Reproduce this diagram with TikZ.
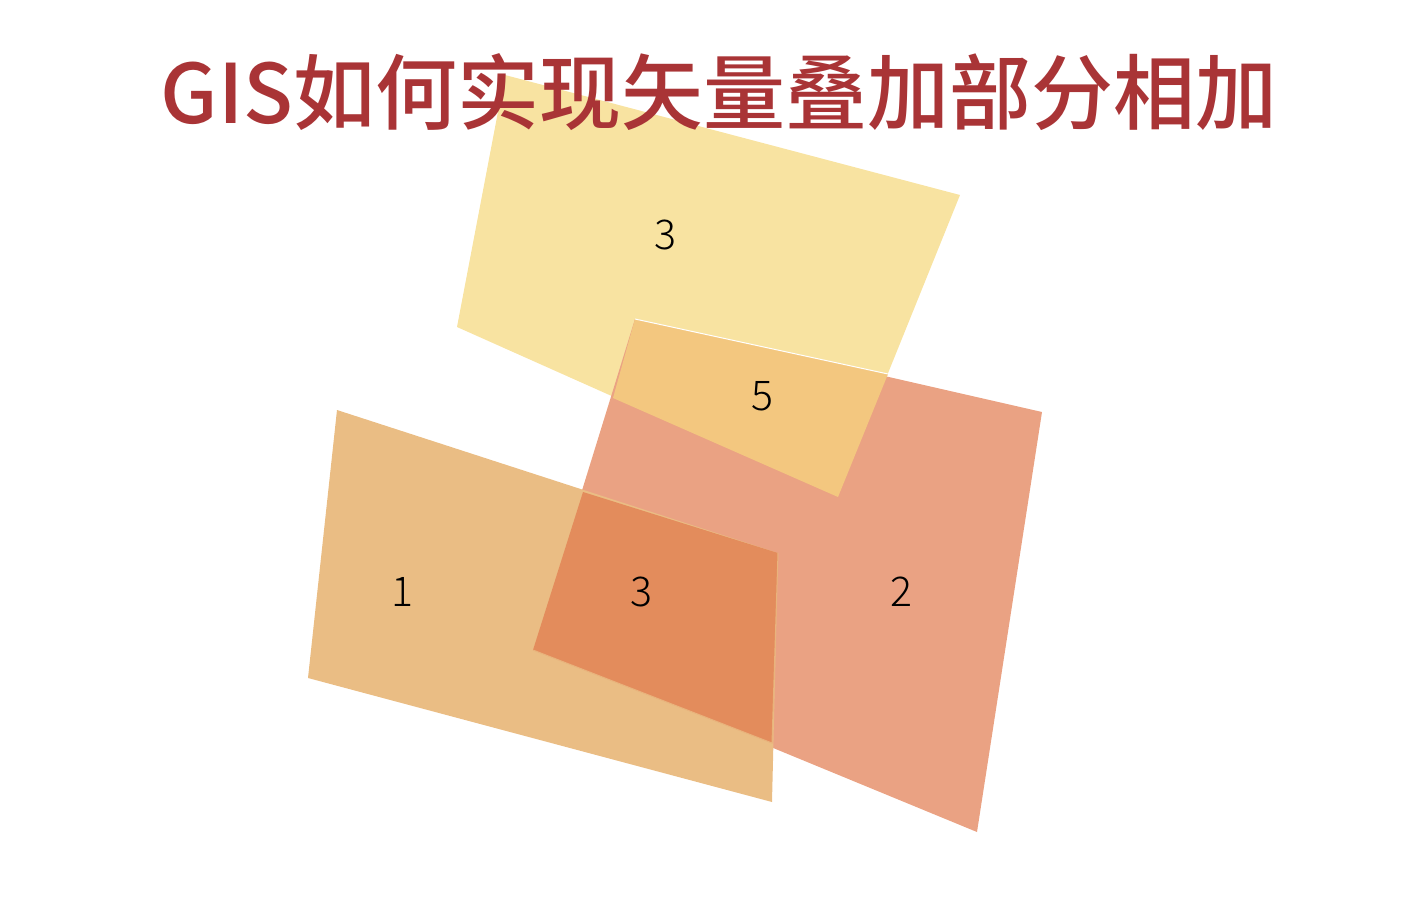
\documentclass[tikz,border=0pt]{standalone}
\usepackage{fontspec}
\usepackage{xcolor}
\newfontfamily\cjk{Noto Sans CJK SC}[UprightFont={* Light}]
\newfontfamily\titlecjk{Noto Sans CJK SC}[UprightFont={* Medium}]
\definecolor{titlered}{HTML}{A93436}
\definecolor{yellowpoly}{HTML}{F8E3A1}
\definecolor{redpoly}{HTML}{EAA283}
\definecolor{orangepoly}{HTML}{EABD84}
\definecolor{fivepoly}{HTML}{F3C77F}
\definecolor{overlappoly}{HTML}{E38C5C}
\tikzset{
	numlabel/.style={font=\cjk\fontsize{41}{41}\selectfont, text=black},
	titletext/.style={font=\titlecjk\fontsize{82}{82}\selectfont, text=titlered}
}

\begin{document}
\begin{tikzpicture}[x=1pt,y=-1pt]
\useasboundingbox (0,0) rectangle (1417,897);
\fill[yellowpoly] (505,75) -- (960,195) -- (838,497) -- (457,327) -- cycle;
\fill[redpoly] (635,319) -- (1042,412) -- (977,832) -- (533,649) -- cycle;
\fill[orangepoly] (337,410) -- (778,553) -- (772,802) -- (308,678) -- cycle;
\fill[fivepoly] (635,319) -- (888,374) -- (838,497) -- (613,398) -- cycle;
\draw[white,line width=1pt] (635,319) -- (888,374);
\fill[overlappoly] (583,492) -- (778,553) -- (772,743) -- (533,650) -- cycle;
\draw[orangepoly!80!overlappoly,line width=1pt] (533,650) -- (772,743) -- (778,553);
\node[numlabel] (top3) at (665,235) {3};
\node[numlabel] (five) at (762,396) {5};
\node[numlabel] (one) at (402,592) {1};
\node[numlabel] (mid3) at (641,592) {3};
\node[numlabel] (two) at (901,592) {2};
\node[titletext] (title) at (719,92) {GIS如何实现矢量叠加部分相加};
\end{tikzpicture}
\end{document}
